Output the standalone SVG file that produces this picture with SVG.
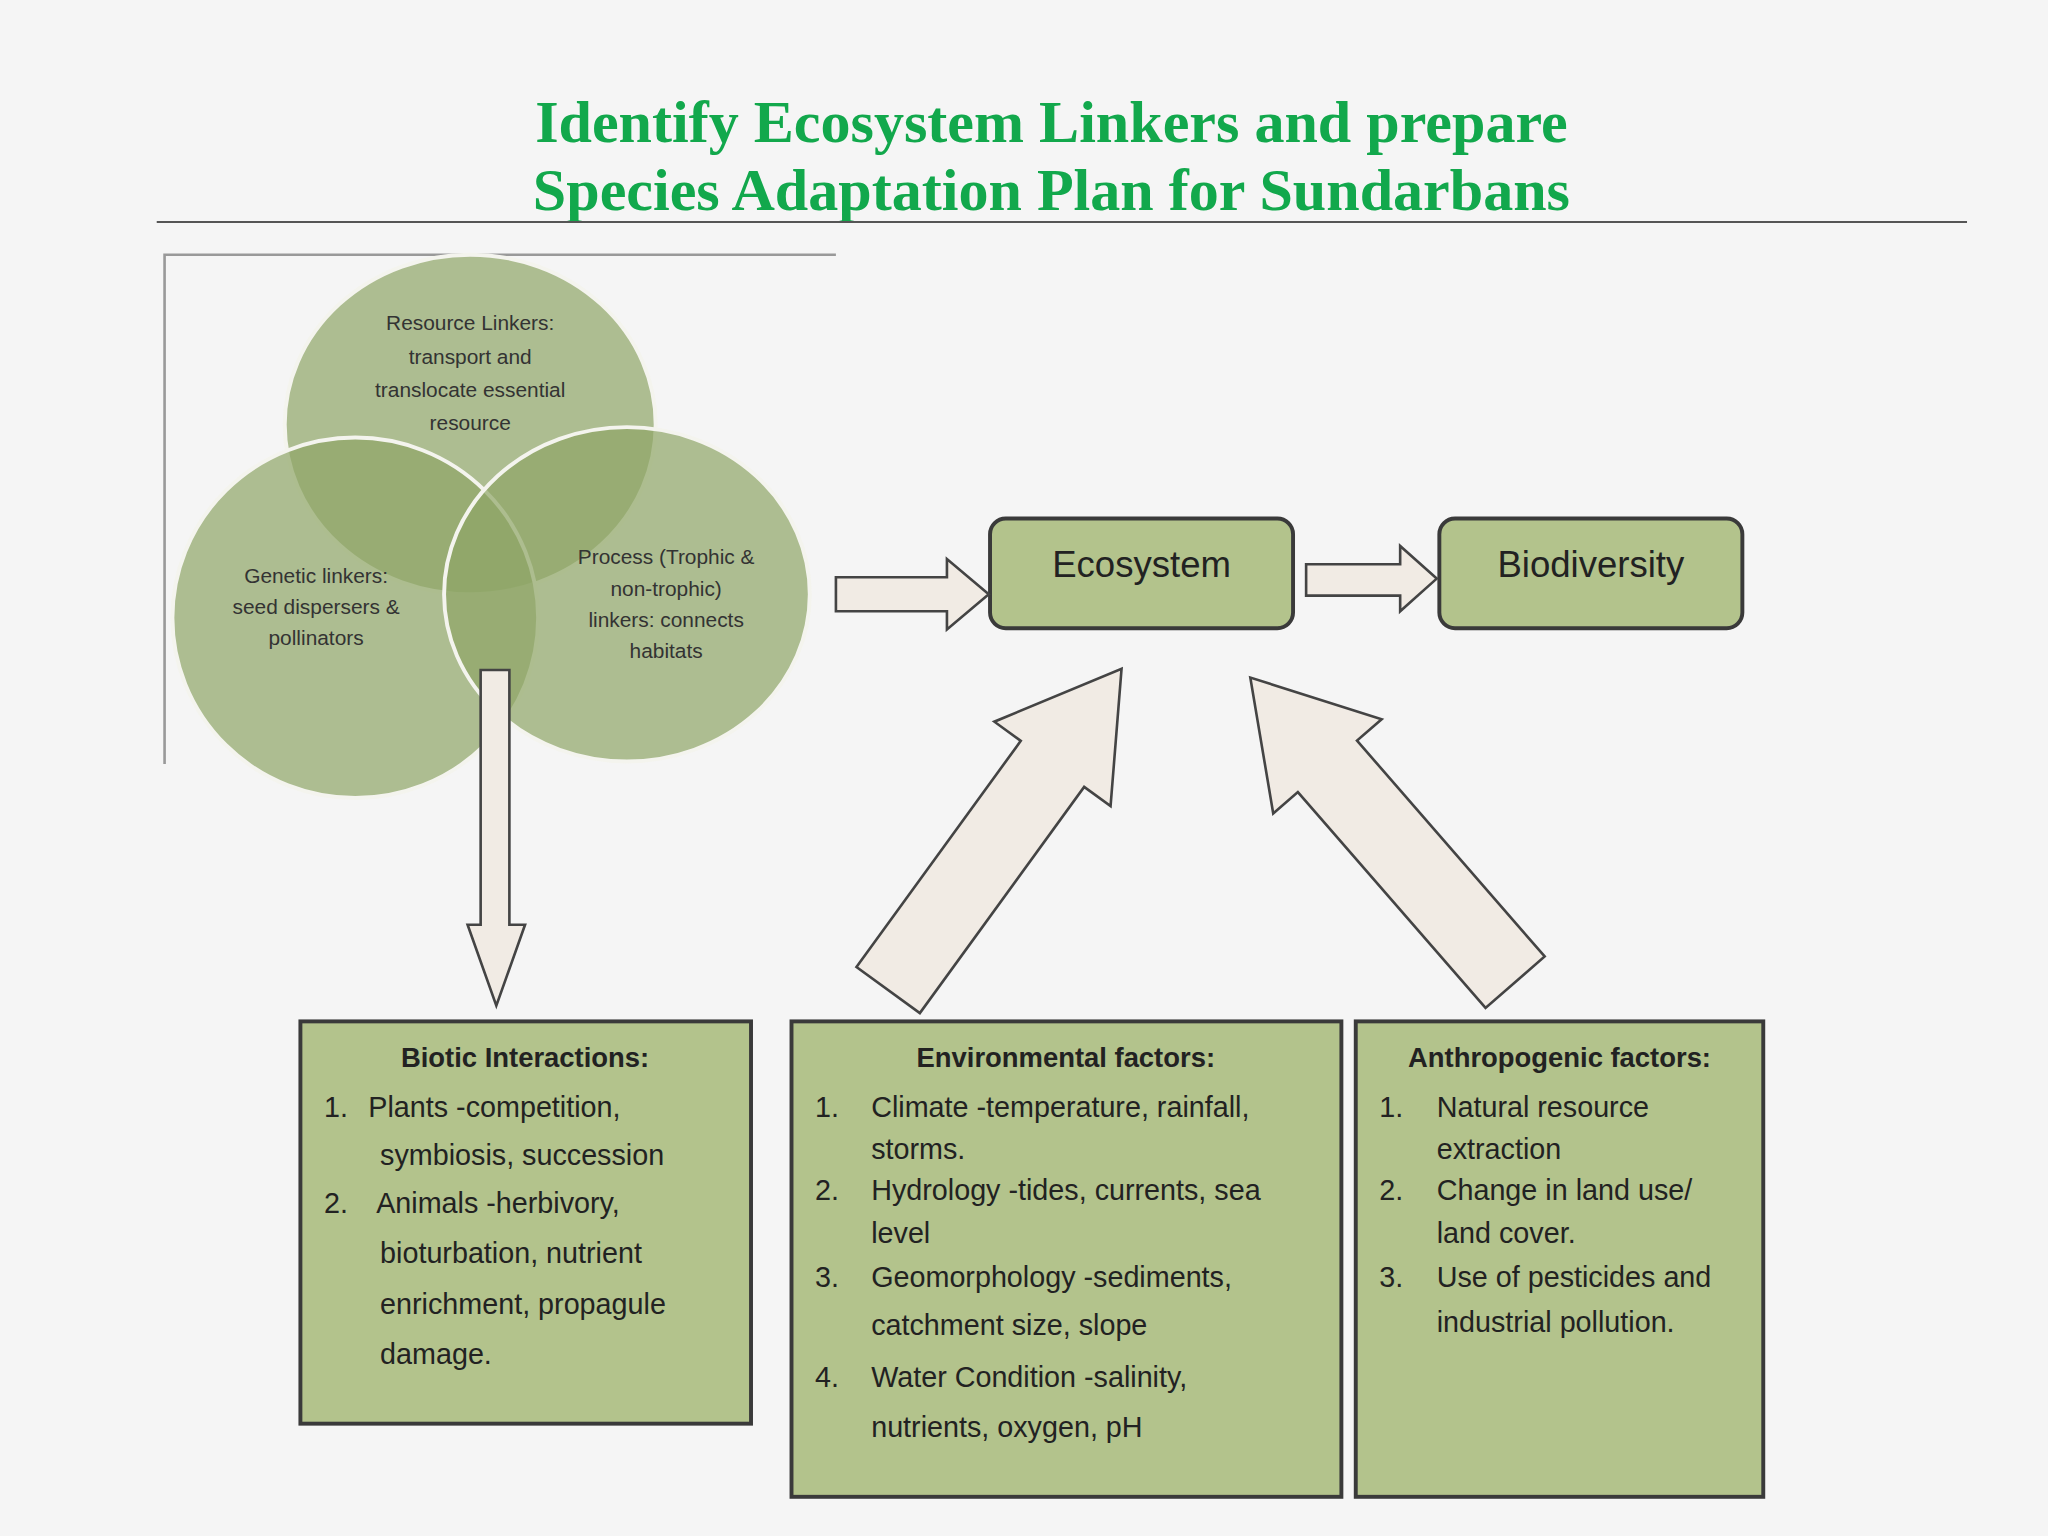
<svg xmlns="http://www.w3.org/2000/svg" width="2048" height="1536" viewBox="0 0 2048 1536">
<style>
.t{font-family:"Liberation Serif",serif;font-weight:bold;font-size:46px;fill:#12a84c;text-anchor:middle}
.ar{fill:#f1ebe4;stroke:#444;stroke-width:2}
.bx{fill:#b3c38c;stroke:#3a3a3a;stroke-width:3}
.c{fill:#8fa566;fill-opacity:0.7;stroke:#f4f4ee;stroke-width:3}
.ct{font-family:"Liberation Sans",sans-serif;font-size:16px;fill:#333;text-anchor:middle}
.bt{font-family:"Liberation Sans",sans-serif;font-size:28px;fill:#222;text-anchor:middle}
.tx{font-family:"Liberation Sans",sans-serif;font-size:22px;fill:#222}
.hd{font-family:"Liberation Sans",sans-serif;font-size:21px;font-weight:bold;fill:#222;text-anchor:middle}
</style>
<rect width="2048" height="1536" fill="#f5f5f5"/>
<g transform="scale(1.30612)">
<text class="t" x="805" y="109">Identify Ecosystem Linkers and prepare</text>
<text class="t" x="805" y="161">Species Adaptation Plan for Sundarbans</text>
<line x1="120" y1="170" x2="1506" y2="170" stroke="#555" stroke-width="1.5"/>
<path d="M640 195 H126 V585" fill="none" stroke="#999" stroke-width="2"/>
<g id="venn">
<ellipse class="c" cx="360" cy="325" rx="142" ry="130"/>
<ellipse class="c" cx="272" cy="473" rx="140" ry="138"/>
<ellipse class="c" cx="480" cy="455" rx="140" ry="128"/>
<text class="ct"><tspan x="360" y="253">Resource Linkers:</tspan><tspan x="360" y="279">transport and</tspan><tspan x="360" y="304">translocate essential</tspan><tspan x="360" y="329">resource</tspan></text>
<text class="ct"><tspan x="242" y="446">Genetic linkers:</tspan><tspan x="242" y="470">seed dispersers &amp;</tspan><tspan x="242" y="494">pollinators</tspan></text>
<text class="ct"><tspan x="510" y="432">Process (Trophic &amp;</tspan><tspan x="510" y="456">non-trophic)</tspan><tspan x="510" y="480">linkers: connects</tspan><tspan x="510" y="504">habitats</tspan></text>
</g>
<g id="ecosystem"><rect class="bx" x="758" y="397" width="232" height="84" rx="12"/><text class="bt" x="874" y="442">Ecosystem</text></g>
<g id="biodiversity"><rect class="bx" x="1102" y="397" width="232" height="84" rx="12"/><text class="bt" x="1218" y="442">Biodiversity</text></g>
<g id="connectors">
<polygon class="ar" points="640,442 725,442 725,428 757,455 725,482 725,468 640,468"/>
<polygon class="ar" points="1000,432 1072,432 1072,418 1100,443 1072,468 1072,456 1000,456"/>
<polygon class="ar" points="368,513 390,513 390,708 402,708 380,770 358,708 368,708"/>
<polygon class="ar" transform="translate(680,758) rotate(-54)" points="0,-30 214,-30 214,-55 304,0 214,55 214,30 0,30"/>
<polygon class="ar" transform="translate(1160,752) rotate(-131)" points="0,-30 219,-30 219,-55 309,0 219,55 219,30 0,30"/>
</g>
<g id="biotic"><rect class="bx" x="230" y="782" width="345" height="308"/>
<text class="hd" x="402" y="817">Biotic Interactions:</text>
<text class="tx"><tspan x="248" y="855">1.</tspan><tspan x="282" y="855">Plants -competition,</tspan><tspan x="291" y="892">symbiosis, succession</tspan><tspan x="248" y="929">2.</tspan><tspan x="288" y="929">Animals -herbivory,</tspan><tspan x="291" y="967">bioturbation, nutrient</tspan><tspan x="291" y="1006">enrichment, propagule</tspan><tspan x="291" y="1044">damage.</tspan></text></g>
<g id="environmental"><rect class="bx" x="606" y="782" width="421" height="364"/>
<text class="hd" x="816" y="817">Environmental factors:</text>
<text class="tx"><tspan x="624" y="855">1.</tspan><tspan x="667" y="855">Climate -temperature, rainfall,</tspan><tspan x="667" y="887">storms.</tspan><tspan x="624" y="919">2.</tspan><tspan x="667" y="919">Hydrology -tides, currents, sea</tspan><tspan x="667" y="952">level</tspan><tspan x="624" y="985">3.</tspan><tspan x="667" y="985">Geomorphology -sediments,</tspan><tspan x="667" y="1022">catchment size, slope</tspan><tspan x="624" y="1062">4.</tspan><tspan x="667" y="1062">Water Condition -salinity,</tspan><tspan x="667" y="1100">nutrients, oxygen, pH</tspan></text></g>
<g id="anthropogenic"><rect class="bx" x="1038" y="782" width="312" height="364"/>
<text class="hd" x="1194" y="817">Anthropogenic factors:</text>
<text class="tx"><tspan x="1056" y="855">1.</tspan><tspan x="1100" y="855">Natural resource</tspan><tspan x="1100" y="887">extraction</tspan><tspan x="1056" y="919">2.</tspan><tspan x="1100" y="919">Change in land use/</tspan><tspan x="1100" y="952">land cover.</tspan><tspan x="1056" y="985">3.</tspan><tspan x="1100" y="985">Use of pesticides and</tspan><tspan x="1100" y="1020">industrial pollution.</tspan></text></g>
</g>
</svg>
